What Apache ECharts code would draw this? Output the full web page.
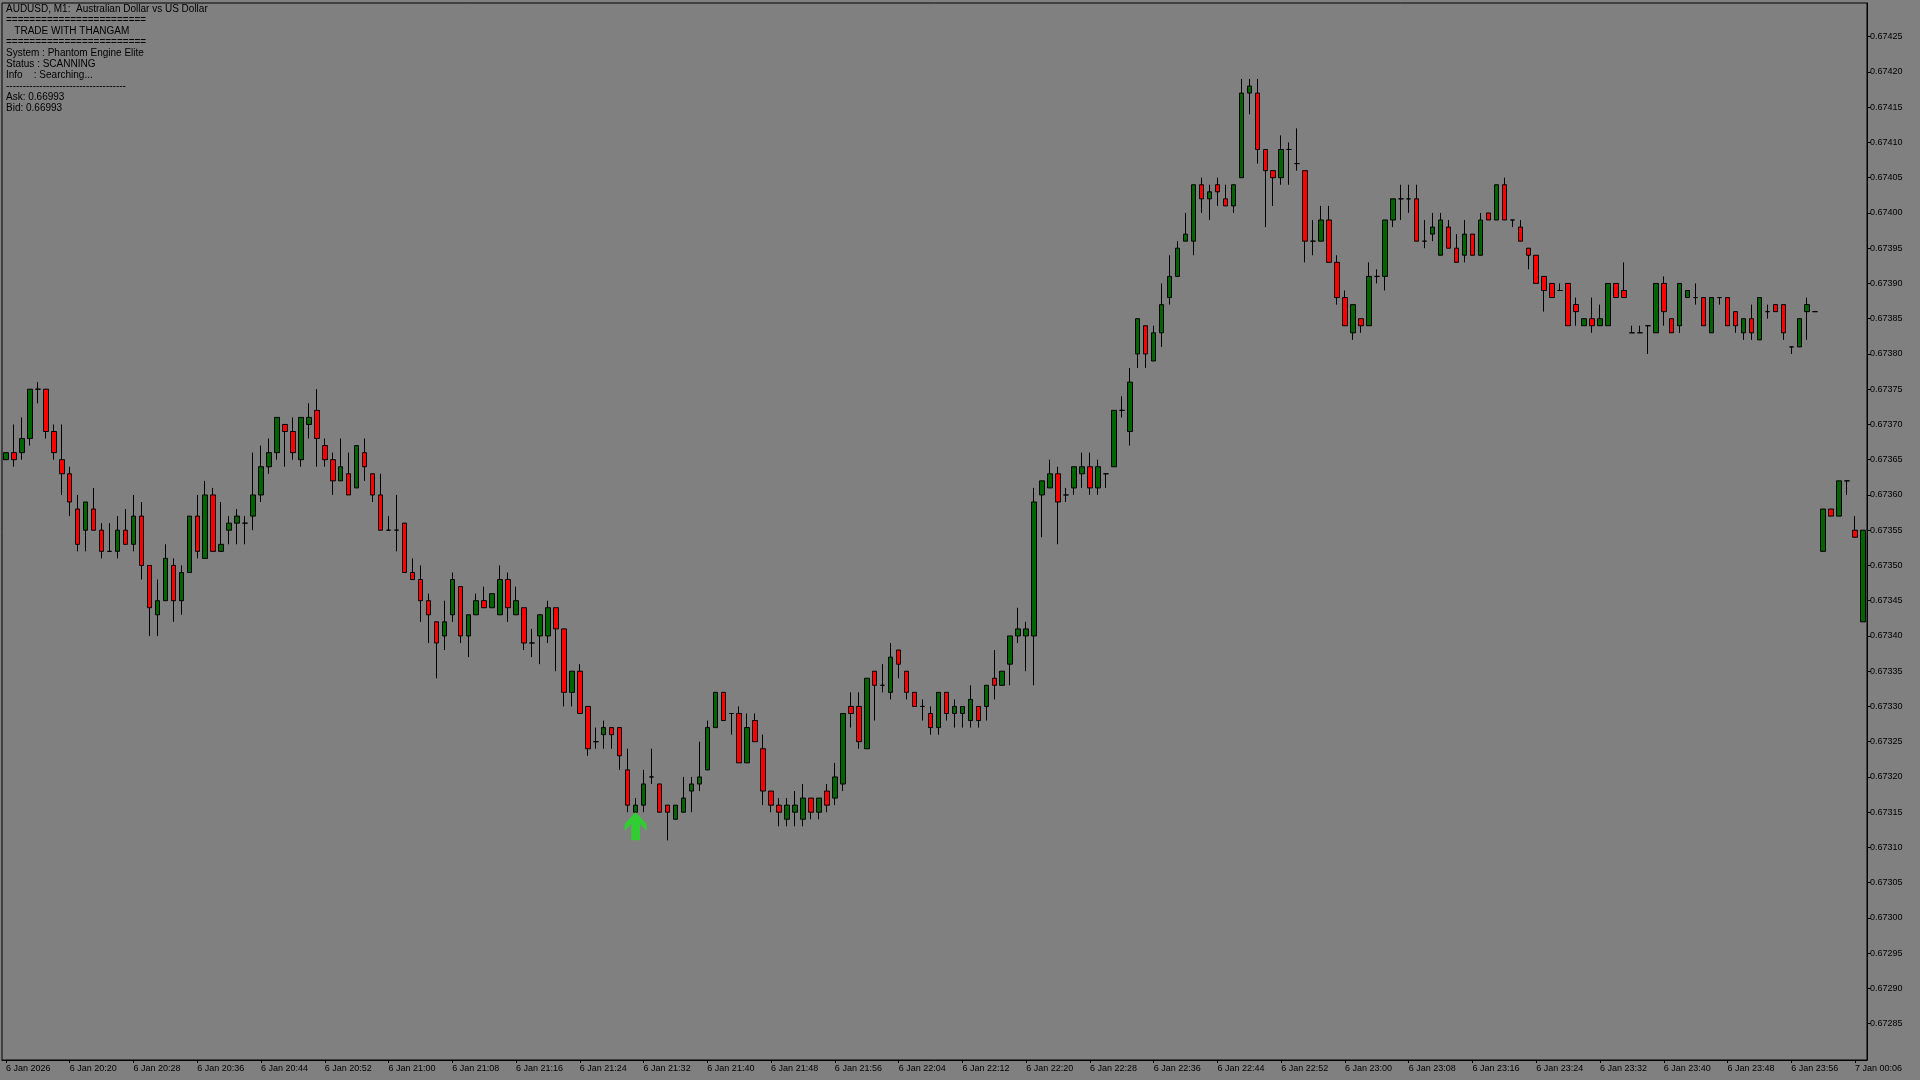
<!DOCTYPE html>
<html>
<head>
<meta charset="utf-8">
<script src="https://cdn.jsdelivr.net/npm/echarts@6/dist/echarts.min.js"></script>
<style>
  html, body { margin: 0; padding: 0; background: #808080; }
  #chart { width: 1920px; height: 1080px; }
</style>
</head>
<body>
<div id="chart"></div>
<script>
// AUDUSD M1 candles, 6 Jan 20:12 -> 7 Jan 00:06
const opens = [
  0.67365,0.67366,0.67366,0.67368,0.67375,0.67375,0.67369,0.67365,0.67363,0.67358,
  0.67355,0.67358,0.67355,0.67352,0.67352,0.67355,0.67353,0.67357,0.67350,0.67343,
  0.67345,0.67350,0.67345,0.67349,0.67357,0.67351,0.67360,0.67352,0.67355,0.67356,
  0.67356,0.67357,0.67360,0.67364,0.67366,0.67370,0.67369,0.67365,0.67370,0.67372,
  0.67367,0.67365,0.67362,0.67363,0.67361,0.67366,0.67363,0.67360,0.67355,0.67355,
  0.67356,0.67349,0.67348,0.67345,0.67342,0.67340,0.67343,0.67347,0.67340,0.67343,
  0.67345,0.67344,0.67343,0.67348,0.67343,
  0.67344,0.67339,0.67340,0.67340,0.67344,0.67341,0.67332,0.67335,0.67330,0.67325,
  0.67326,0.67327,0.67327,0.67321,0.67315,0.67316,0.67320,0.67319,0.67316,0.67314,
  0.67315,0.67318,0.67319,0.67321,0.67327,0.67332,0.67329,0.67329,0.67322,0.67328,
  0.67324,0.67318,0.67316,0.67314,0.67315,0.67314,0.67317,0.67315,0.67318,0.67317,
  0.67319,0.67330,0.67330,0.67324,0.67335,0.67333,0.67332,0.67338,0.67335,0.67332,
  0.67330,0.67329,0.67327,0.67332,0.67329,0.67329,0.67328,0.67330,0.67330,0.67334,
  0.67333,0.67336,0.67340,0.67340,0.67340,0.67360,0.67361,0.67363,0.67360,0.67361,
  0.67363,0.67364,0.67361,0.67363,0.67364,0.67372,0.67369,0.67380,0.67384,0.67379,
  0.67383,0.67388,0.67391,0.67396,0.67396,0.67404,0.67402,0.67404,0.67402,0.67401,
  0.67405,0.67417,0.67417,0.67409,0.67406,0.67405,0.67409,0.67407,0.67406,0.67396,
  0.67396,0.67399,0.67393,0.67388,0.67383,0.67385,0.67384,0.67391,0.67391,0.67399,
  0.67402,0.67402,0.67402,0.67396,0.67397,0.67394,0.67398,0.67395,0.67394,0.67397,
  0.67394,0.67400,0.67399,0.67404,0.67399,0.67398,0.67395,0.67394,0.67391,0.67390,
  0.67389,0.67390,0.67387,0.67384,0.67385,0.67384,0.67384,0.67390,0.67389,0.67383,
  0.67383,0.67384,0.67383,0.67390,0.67385,0.67384,0.67388,0.67388,0.67388,0.67383,
  0.67388,0.67388,0.67386,0.67383,0.67385,0.67382,0.67386,0.67387,0.67387,0.67381,
  0.67381,0.67386,0.67386,0.67352,0.67358,0.67357,0.67362,0.67355,0.67342
];
const closes = [
  0.67366,0.67365,0.67368,0.67375,0.67375,0.67369,0.67366,0.67363,0.67359,0.67353,
  0.67359,0.67355,0.67352,0.67352,0.67355,0.67353,0.67357,0.67350,0.67344,0.67345,
  0.67351,0.67345,0.67349,0.67357,0.67352,0.67360,0.67352,0.67353,0.67356,0.67357,
  0.67356,0.67360,0.67364,0.67366,0.67371,0.67369,0.67366,0.67371,0.67371,0.67368,
  0.67365,0.67362,0.67364,0.67360,0.67367,0.67364,0.67360,0.67355,0.67355,0.67355,
  0.67349,0.67348,0.67345,0.67343,0.67339,0.67342,0.67348,0.67340,0.67343,0.67345,
  0.67344,0.67346,0.67348,0.67344,0.67345,
  0.67339,0.67339,0.67343,0.67344,0.67341,0.67332,0.67335,0.67329,0.67324,0.67325,
  0.67327,0.67326,0.67323,0.67316,0.67316,0.67319,0.67320,0.67315,0.67315,0.67316,
  0.67317,0.67319,0.67320,0.67327,0.67332,0.67328,0.67329,0.67322,0.67327,0.67325,
  0.67318,0.67316,0.67315,0.67316,0.67316,0.67317,0.67315,0.67317,0.67316,0.67320,
  0.67329,0.67329,0.67325,0.67334,0.67333,0.67333,0.67337,0.67336,0.67332,0.67330,
  0.67330,0.67327,0.67332,0.67329,0.67330,0.67330,0.67331,0.67328,0.67333,0.67333,
  0.67335,0.67340,0.67341,0.67341,0.67359,0.67362,0.67363,0.67359,0.67360,0.67364,
  0.67364,0.67361,0.67364,0.67363,0.67372,0.67372,0.67376,0.67385,0.67380,0.67383,
  0.67387,0.67391,0.67395,0.67397,0.67404,0.67402,0.67403,0.67403,0.67401,0.67404,
  0.67417,0.67418,0.67409,0.67406,0.67405,0.67409,0.67409,0.67407,0.67396,0.67396,
  0.67399,0.67393,0.67388,0.67384,0.67387,0.67384,0.67391,0.67391,0.67399,0.67402,
  0.67402,0.67402,0.67396,0.67396,0.67398,0.67399,0.67395,0.67393,0.67397,0.67394,
  0.67399,0.67399,0.67404,0.67399,0.67399,0.67396,0.67394,0.67390,0.67389,0.67388,
  0.67389,0.67384,0.67386,0.67385,0.67384,0.67385,0.67390,0.67388,0.67388,0.67383,
  0.67383,0.67384,0.67390,0.67386,0.67383,0.67390,0.67389,0.67388,0.67384,0.67388,
  0.67388,0.67384,0.67384,0.67385,0.67383,0.67388,0.67386,0.67386,0.67383,0.67381,
  0.67385,0.67387,0.67386,0.67358,0.67357,0.67362,0.67362,0.67354,0.67355
];
const lows = [
  0.67365,0.67364,0.67365,0.67367,0.67373,0.67368,0.67365,0.67360,0.67357,0.67352,
  0.67352,0.67355,0.67351,0.67352,0.67351,0.67353,0.67352,0.67348,0.67340,0.67340,
  0.67345,0.67342,0.67343,0.67349,0.67351,0.67351,0.67352,0.67352,0.67353,0.67353,
  0.67353,0.67355,0.67359,0.67363,0.67365,0.67364,0.67365,0.67364,0.67368,0.67364,
  0.67364,0.67360,0.67362,0.67360,0.67361,0.67362,0.67359,0.67355,0.67355,0.67352,
  0.67349,0.67348,0.67342,0.67339,0.67334,0.67338,0.67342,0.67339,0.67337,0.67343,
  0.67344,0.67344,0.67343,0.67342,0.67343,
  0.67338,0.67337,0.67336,0.67339,0.67335,0.67330,0.67330,0.67329,0.67323,0.67324,
  0.67324,0.67324,0.67321,0.67315,0.67315,0.67315,0.67319,0.67315,0.67311,0.67314,
  0.67315,0.67315,0.67318,0.67321,0.67327,0.67328,0.67326,0.67322,0.67322,0.67325,
  0.67316,0.67315,0.67313,0.67313,0.67313,0.67313,0.67314,0.67314,0.67315,0.67316,
  0.67318,0.67327,0.67324,0.67324,0.67328,0.67332,0.67331,0.67334,0.67331,0.67330,
  0.67328,0.67326,0.67326,0.67328,0.67327,0.67327,0.67327,0.67327,0.67328,0.67331,
  0.67333,0.67333,0.67339,0.67335,0.67333,0.67354,0.67361,0.67353,0.67359,0.67360,
  0.67361,0.67360,0.67360,0.67361,0.67364,0.67371,0.67367,0.67378,0.67378,0.67379,
  0.67381,0.67387,0.67391,0.67396,0.67394,0.67400,0.67399,0.67401,0.67401,0.67400,
  0.67405,0.67414,0.67407,0.67398,0.67401,0.67404,0.67404,0.67406,0.67393,0.67394,
  0.67396,0.67393,0.67387,0.67384,0.67382,0.67383,0.67384,0.67390,0.67389,0.67398,
  0.67399,0.67400,0.67396,0.67395,0.67396,0.67394,0.67395,0.67393,0.67393,0.67394,
  0.67394,0.67399,0.67399,0.67399,0.67398,0.67396,0.67392,0.67390,0.67386,0.67388,
  0.67389,0.67384,0.67384,0.67384,0.67383,0.67384,0.67384,0.67388,0.67388,0.67383,
  0.67383,0.67380,0.67383,0.67384,0.67383,0.67383,0.67388,0.67387,0.67384,0.67383,
  0.67387,0.67384,0.67383,0.67382,0.67382,0.67382,0.67385,0.67386,0.67382,0.67380,
  0.67381,0.67382,0.67386,0.67352,0.67357,0.67357,0.67360,0.67354,0.67342
];
const highs = [
  0.67366,0.67370,0.67371,0.67375,0.67376,0.67375,0.67370,0.67370,0.67364,0.67360,
  0.67359,0.67361,0.67356,0.67356,0.67357,0.67358,0.67360,0.67359,0.67350,0.67348,
  0.67353,0.67351,0.67350,0.67357,0.67360,0.67362,0.67361,0.67359,0.67357,0.67358,
  0.67357,0.67366,0.67367,0.67368,0.67371,0.67370,0.67371,0.67371,0.67373,0.67375,
  0.67368,0.67366,0.67368,0.67366,0.67367,0.67368,0.67363,0.67363,0.67357,0.67360,
  0.67356,0.67351,0.67350,0.67346,0.67342,0.67345,0.67349,0.67347,0.67343,0.67346,
  0.67347,0.67346,0.67350,0.67349,0.67347,
  0.67344,0.67341,0.67343,0.67345,0.67344,0.67341,0.67335,0.67336,0.67330,0.67327,
  0.67328,0.67327,0.67327,0.67324,0.67317,0.67321,0.67324,0.67319,0.67316,0.67316,
  0.67320,0.67320,0.67325,0.67328,0.67332,0.67332,0.67329,0.67330,0.67329,0.67329,
  0.67326,0.67318,0.67317,0.67317,0.67318,0.67319,0.67317,0.67317,0.67319,0.67322,
  0.67329,0.67332,0.67332,0.67334,0.67335,0.67336,0.67339,0.67338,0.67335,0.67332,
  0.67331,0.67330,0.67332,0.67332,0.67331,0.67330,0.67333,0.67330,0.67333,0.67338,
  0.67335,0.67340,0.67344,0.67342,0.67361,0.67362,0.67365,0.67364,0.67361,0.67364,
  0.67366,0.67366,0.67365,0.67363,0.67372,0.67374,0.67378,0.67385,0.67384,0.67384,
  0.67390,0.67394,0.67396,0.67400,0.67404,0.67405,0.67404,0.67405,0.67404,0.67404,
  0.67419,0.67419,0.67419,0.67409,0.67406,0.67411,0.67410,0.67412,0.67406,0.67399,
  0.67401,0.67401,0.67394,0.67389,0.67387,0.67385,0.67393,0.67392,0.67399,0.67402,
  0.67404,0.67404,0.67404,0.67399,0.67400,0.67400,0.67399,0.67397,0.67399,0.67397,
  0.67400,0.67400,0.67404,0.67405,0.67399,0.67399,0.67395,0.67394,0.67391,0.67390,
  0.67390,0.67390,0.67388,0.67385,0.67388,0.67387,0.67390,0.67390,0.67393,0.67384,
  0.67384,0.67384,0.67390,0.67391,0.67385,0.67390,0.67389,0.67390,0.67388,0.67388,
  0.67388,0.67388,0.67386,0.67385,0.67387,0.67388,0.67387,0.67387,0.67387,0.67381,
  0.67385,0.67388,0.67386,0.67358,0.67358,0.67362,0.67362,0.67357,0.67355
];
// bottom time labels, one every 8 bars, plus the last bar
const timeLabels = [
  '6 Jan 2026','6 Jan 20:20','6 Jan 20:28','6 Jan 20:36','6 Jan 20:44','6 Jan 20:52',
  '6 Jan 21:00','6 Jan 21:08','6 Jan 21:16','6 Jan 21:24','6 Jan 21:32','6 Jan 21:40',
  '6 Jan 21:48','6 Jan 21:56','6 Jan 22:04','6 Jan 22:12','6 Jan 22:20','6 Jan 22:28',
  '6 Jan 22:36','6 Jan 22:44','6 Jan 22:52','6 Jan 23:00','6 Jan 23:08','6 Jan 23:16',
  '6 Jan 23:24','6 Jan 23:32','6 Jan 23:40','6 Jan 23:48','6 Jan 23:56','7 Jan 00:06'
];
const priceTicks = [
  0.67285,0.67290,0.67295,0.67300,0.67305,0.67310,0.67315,0.67320,0.67325,0.67330,
  0.67335,0.67340,0.67345,0.67350,0.67355,0.67360,0.67365,0.67370,0.67375,0.67380,
  0.67385,0.67390,0.67395,0.67400,0.67405,0.67410,0.67415,0.67420,0.67425
];
const signalBar = 79;
const signalPrice = 0.67313;

const infoLines = [
  'AUDUSD, M1:  Australian Dollar vs US Dollar',
  '========================',
  '   TRADE WITH THANGAM',
  '========================',
  'System : Phantom Engine Elite',
  'Status : SCANNING',
  'Info    : Searching...',
  '------------------------------------',
  'Ask: 0.66993',
  'Bid: 0.66993'
];

const n = opens.length;
const cats = [];
const candles = [];
for (let i = 0; i < n; i++) {
  cats.push(String(i));
  candles.push([opens[i], closes[i], lows[i], highs[i]]);
}
function labelFor(i) {
  if (i === n - 1) return timeLabels[timeLabels.length - 1];
  if (i % 8 === 0) return timeLabels[i / 8] || '';
  return '';
}
const showTick = (i) => i % 8 === 0 || i === n - 1;

const chart = echarts.init(document.getElementById('chart'));
chart.setOption({
  animation: false,
  backgroundColor: '#808080',
  textStyle: { fontFamily: 'Liberation Sans' },
  grid: {
    left: 2, right: 53, top: 3, bottom: 20,
    show: true, borderColor: '#000', borderWidth: 1, backgroundColor: '#808080'
  },
  xAxis: {
    type: 'category',
    data: cats,
    boundaryGap: true,
    axisLine: { lineStyle: { color: '#000' } },
    axisTick: { show: true, alignWithLabel: true, interval: (i) => showTick(i), length: 3, lineStyle: { color: '#000' } },
    axisLabel: {
      interval: (i) => showTick(i),
      formatter: (v, i) => labelFor(i),
      align: 'left', margin: 4, color: '#000', fontSize: 9, fontFamily: 'Liberation Sans'
    },
    splitLine: { show: false }
  },
  yAxis: {
    type: 'value',
    position: 'right',
    min: 0.6727985,
    max: 0.6742978,
    scale: true,
    axisLine: { show: true, lineStyle: { color: '#000' } },
    axisTick: { show: true, customValues: priceTicks, length: 4, lineStyle: { color: '#000' } },
    axisLabel: {
      customValues: priceTicks,
      formatter: (v) => v.toFixed(5),
      margin: 3, color: '#000', fontSize: 9, fontFamily: 'Liberation Sans'
    },
    splitLine: { show: false }
  },
  graphic: infoLines.map((t, k) => ({
    type: 'text',
    left: 6,
    top: 4 + k * 11,
    style: { text: t, fill: '#000', font: '10px "Liberation Sans"' }
  })),
  series: [{
    type: 'candlestick',
    data: candles,
    barWidth: 5,
    itemStyle: {
      color: '#006400',
      color0: '#ff0000',
      borderColor: '#000',
      borderColor0: '#000',
      borderWidth: 1
    },
    markPoint: {
      data: [{
        coord: [String(signalBar), signalPrice],
        symbol: 'path://M50,0 L100,42 L100,66 L70,42 L70,100 L30,100 L30,42 L0,66 L0,42 Z',
        symbolSize: [22, 28],
        itemStyle: { color: '#32cd32' },
        label: { show: false }
      }]
    }
  }]
});
</script>
</body>
</html>
